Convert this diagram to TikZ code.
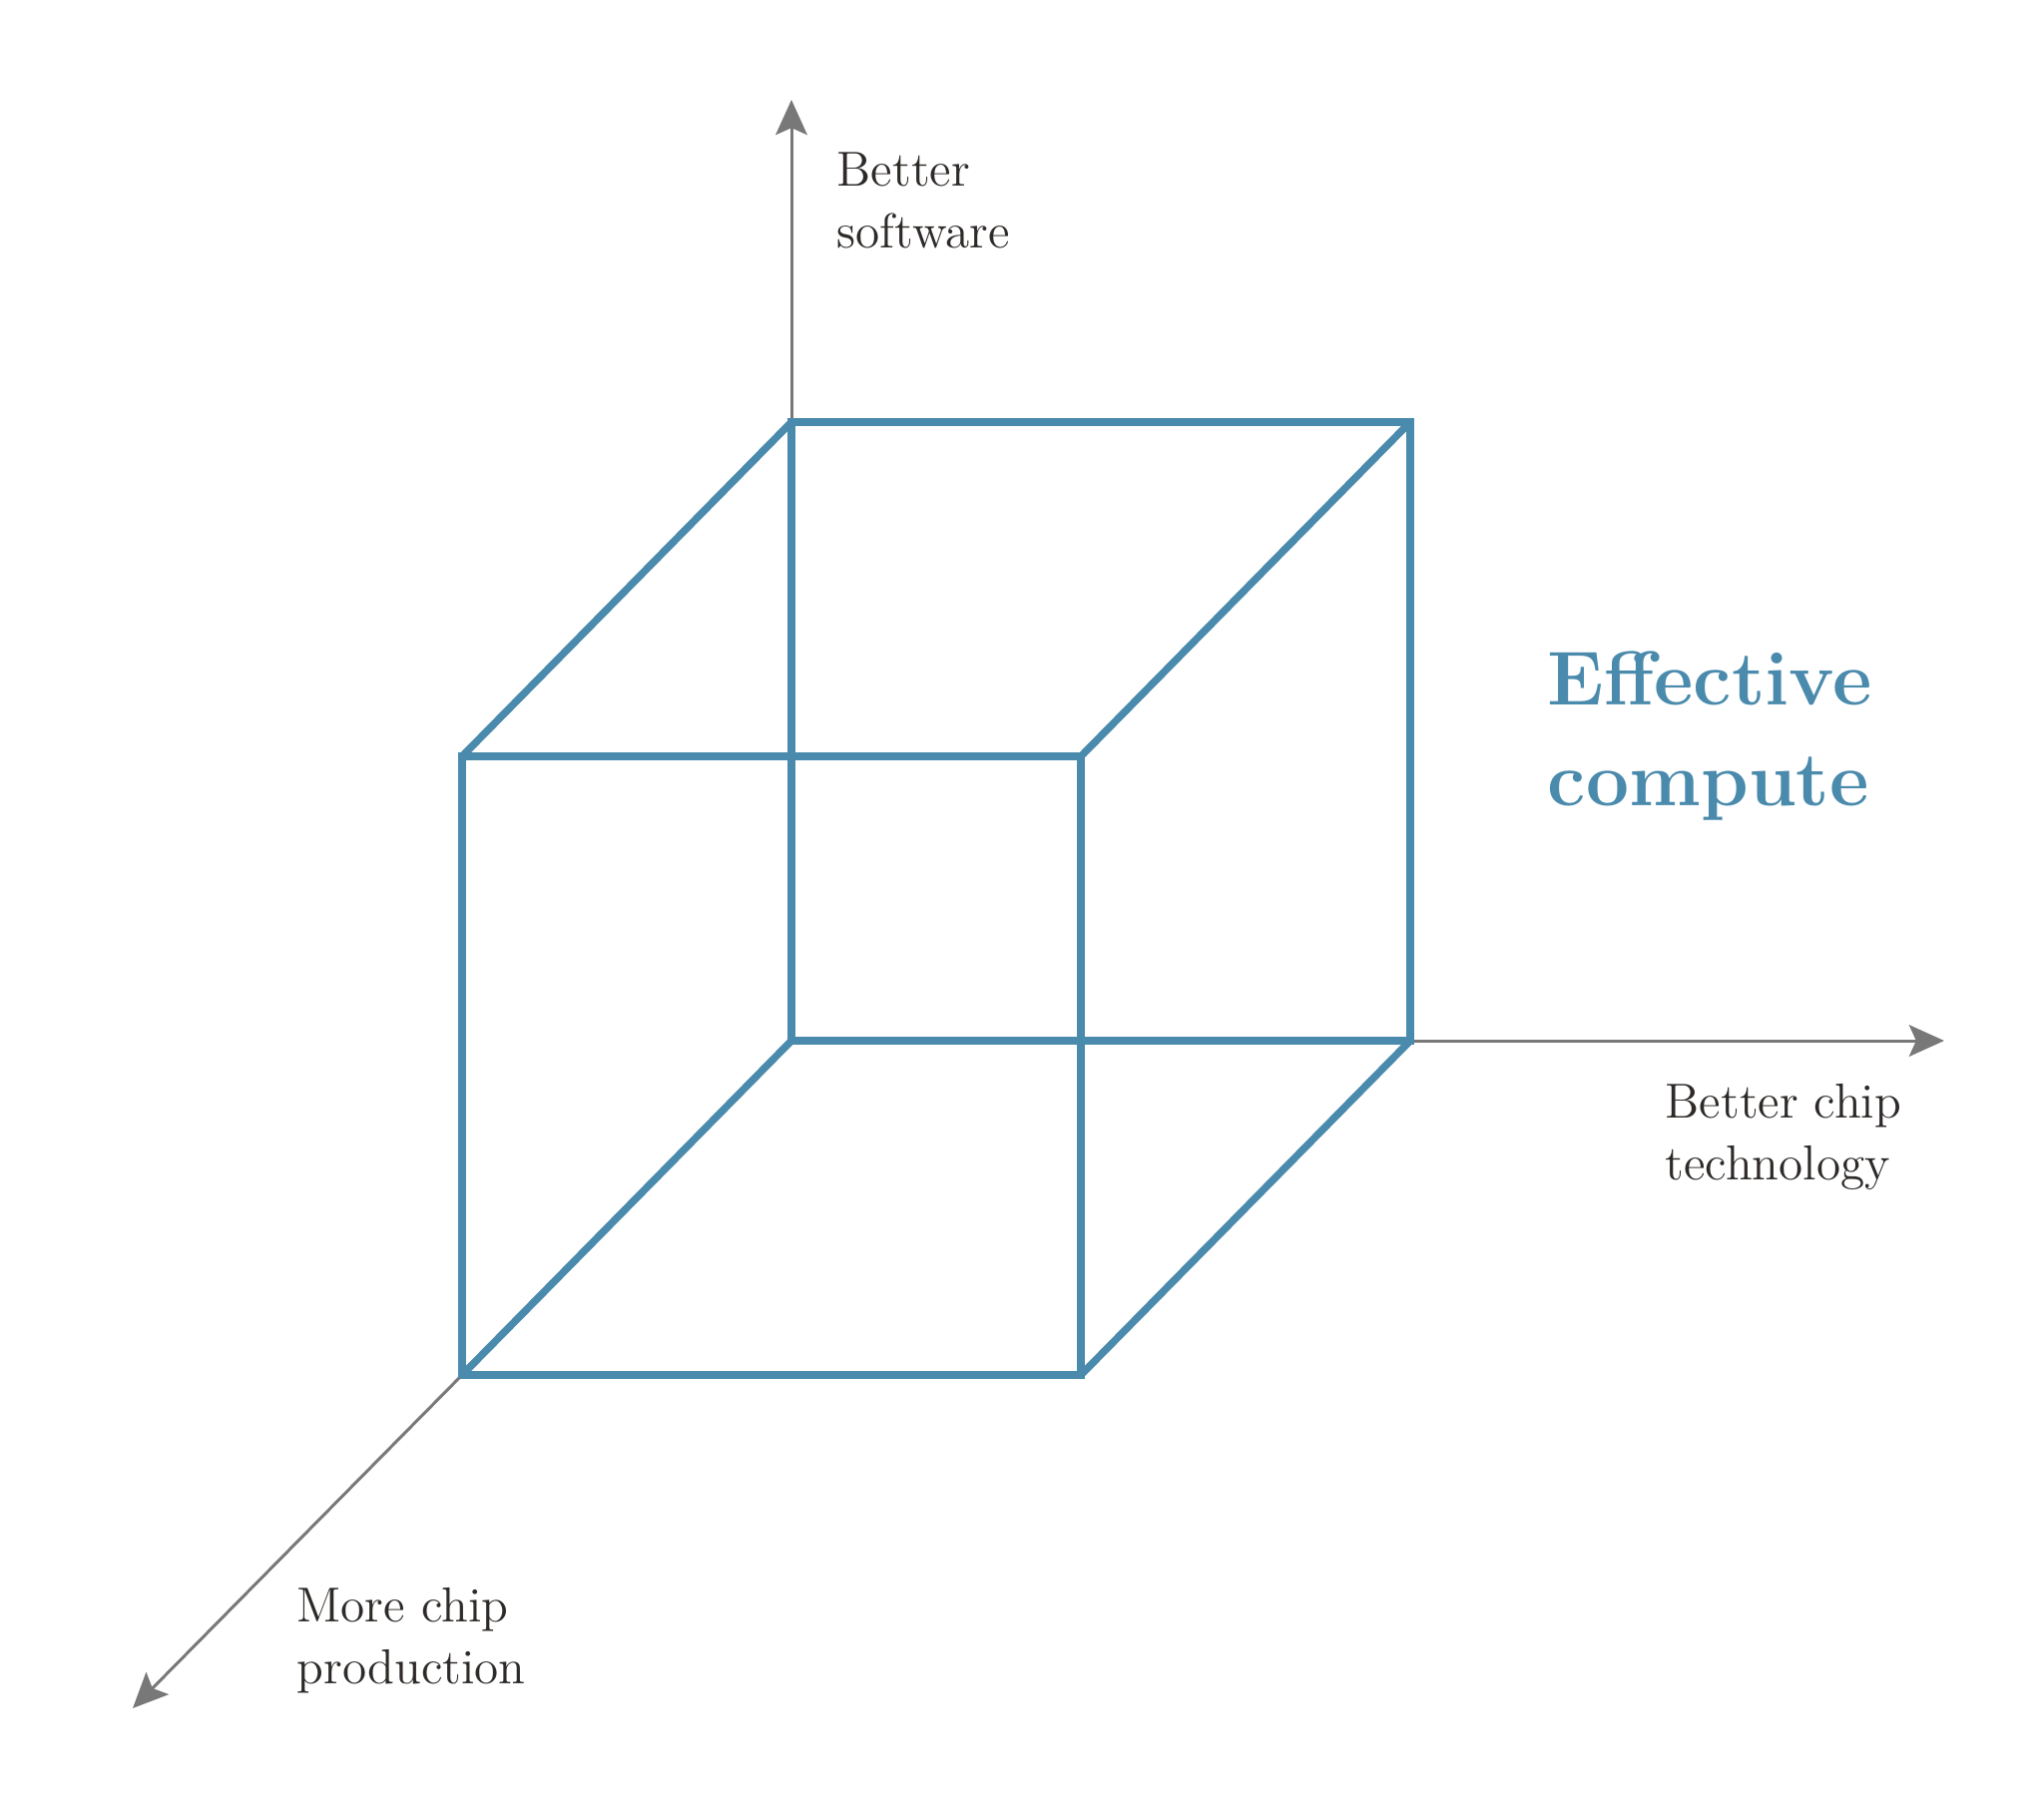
\documentclass[tikz,border=0pt]{standalone}
\usetikzlibrary{arrows.meta}
\definecolor{cubeblue}{RGB}{74,138,172}
\definecolor{axisgray}{RGB}{120,120,120}
\definecolor{labelgray}{RGB}{45,42,40}
\begin{document}
\begin{tikzpicture}[x=0.01cm, y=-0.01cm,
		axis/.style={draw=axisgray, line width=0.85pt, -{Stealth[length=10pt, width=9pt, inset=2pt]}},
		edge/.style={draw=cubeblue, line width=2.1pt, line join=miter},
		axislabel/.style={anchor=base west, align=left, text=labelgray, inner sep=0pt, font=\fontsize{14}{17.4}\selectfont},
		title/.style={anchor=base west, align=left, text=cubeblue, inner sep=0pt, font=\bfseries\fontsize{21.8}{28.7}\selectfont}]
		\useasboundingbox (0,0) rectangle (2048,1818);

		% back face
		\coordinate (btl) at (793,423);
		\coordinate (btr) at (1413,423);
		\coordinate (bbl) at (793,1043);
		\coordinate (bbr) at (1413,1043);
		% front face
		\coordinate (ftl) at (463,758);
		\coordinate (ftr) at (1083,758);
		\coordinate (fbl) at (463,1378);
		\coordinate (fbr) at (1083,1378);

		% axis ends
		\coordinate (softtip) at (793,100);
		\coordinate (techtip) at (1948,1043);
		\coordinate (prodtip) at (133,1712);

		\draw[axis] (btl) -- (softtip);
		\draw[axis] (bbr) -- (techtip);
		\draw[axis] (fbl) -- (prodtip);

		\draw[edge] (btl) -- (btr) -- (bbr) -- (bbl) -- cycle;
		\draw[edge] (ftl) -- (ftr) -- (fbr) -- (fbl) -- cycle;
		\draw[edge] (btl) -- (ftl);
		\draw[edge] (btr) -- (ftr);
		\draw[edge] (bbl) -- (fbl);
		\draw[edge] (bbr) -- (fbr);

		% labels (base = last line)
		\node[axislabel] (software) at (838,248) {Better\\software};
		\node[axislabel] (technology) at (1668,1182) {Better chip\\technology};
		\node[axislabel] (production) at (297,1687) {More chip\\production};
		\node[title] (effective) at (1550,807) {Effective\\compute};
	\end{tikzpicture}
\end{document}
